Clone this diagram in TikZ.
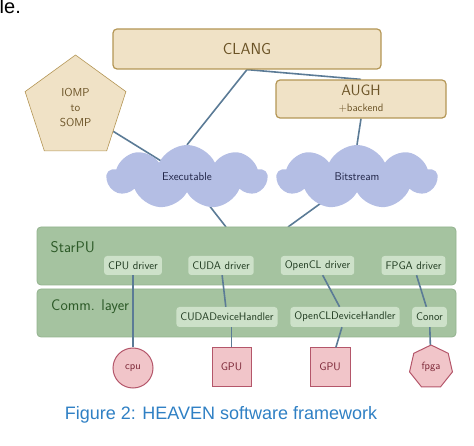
\documentclass[tikz,border=0pt]{standalone}
\usepackage{fontspec}
\newfontfamily\capfont{Liberation Sans}
\usetikzlibrary{shapes.geometric,shapes.symbols,backgrounds}
\definecolor{beigefill}{HTML}{F0E2C6}
\definecolor{beigedraw}{HTML}{B49655}
\definecolor{beigetext}{HTML}{6B5326}
\definecolor{cloudfill}{HTML}{B4BEE4}
\definecolor{cloudtext}{HTML}{1E2244}
\definecolor{linkcol}{HTML}{5B7B96}
\definecolor{greenfill}{HTML}{A5C3A0}
\definecolor{greendraw}{HTML}{93B28E}
\definecolor{greentext}{HTML}{2D5A28}
\definecolor{lightgreen}{HTML}{CDE1C9}
\definecolor{lgtext}{HTML}{1F3A1F}
\definecolor{redfill}{HTML}{F1C5C9}
\definecolor{reddraw}{HTML}{B4566A}
\definecolor{redtext}{HTML}{7A2434}
\definecolor{capblue}{HTML}{2F80C4}
\tikzset{
  fs/.style={font=\sffamily\fontsize{#1}{#1}\selectfont},
  tanbox/.style={draw=beigedraw, fill=beigefill, line width=1.2pt, rounded corners=4pt, text=beigetext, inner sep=0pt},
  cloudnode/.style={cloud, cloud puffs=9, cloud puff arc=130, cloud ignores aspect, fill=cloudfill, draw=none, text=cloudtext, minimum width=160pt, minimum height=64pt, inner sep=0pt, fs=11.3},
  layerbox/.style={draw=greendraw, fill=greenfill, line width=0.8pt, rounded corners=4pt, minimum width=419pt, inner sep=0pt},
  layerlabel/.style={text=greentext, anchor=west, inner sep=0pt, fs=15.5},
  chip/.style={fill=lightgreen, rounded corners=3pt, text=lgtext, inner sep=0pt, inner xsep=4pt, minimum height=19pt, fs=11},
  dev/.style={draw=reddraw, fill=redfill, line width=1pt, text=redtext, inner sep=0pt, fs=10.5},
  link/.style={draw=linkcol, line width=1.6pt},
}
\begin{document}
\begin{tikzpicture}[x=1pt,y=-1pt]
\useasboundingbox (0,0) rectangle (474,446);
\clip (0,0) rectangle (474,446);
% fragment of surrounding text
\node[anchor=base west, inner sep=0pt, font=\capfont\fontsize{20}{20}\selectfont] (frag) at (-0.5,13.3) {le.};
% top part
\node[tanbox, minimum width=268pt, minimum height=40pt, fs=16] (clang) at (247,49) {CLANG};
\node[tanbox, minimum width=170pt, minimum height=38pt, align=center, fs=15] (augh) at (361,99)
  {AUGH\\[1pt]{\fontsize{10.8}{11}\selectfont +backend}};
\node[regular polygon, regular polygon sides=5, minimum size=106pt, inner sep=0pt, draw=beigedraw, fill=beigefill, line width=0.6pt, text=beigetext, align=center, fs=11.5] (pent) at (75.5,108)
  {IOMP\\[3.5pt]to\\[3.5pt]SOMP};
\node[cloudnode] (exec) at (187,177) {Executable};
\node[cloudnode] (bits) at (357,177) {Bitstream};
% layers
\node[layerbox, minimum height=58pt] (starpu) at (246.5,256) {};
\node[layerbox, minimum height=48pt] (comm) at (246.5,313) {};
\node[layerlabel] (starpulabel) at (50.5,247) {StarPU};
\node[layerlabel] (commlabel) at (51,307) {Comm. layer};
\coordinate (s1) at (226,227);
\coordinate (s2) at (288,227);
% drivers
\node[chip] (cpud) at (133,265.5) {CPU driver};
\node[chip] (cudad) at (221,265.5) {CUDA driver};
\node[chip] (ocld) at (317.5,265.5) {OpenCL driver};
\node[chip] (fpgad) at (413.5,265.5) {FPGA driver};
% handlers
\node[chip, minimum height=20pt] (cudah) at (227,317) {CUDADeviceHandler};
\node[chip, minimum height=20pt] (oclh) at (345,317) {OpenCLDeviceHandler};
\node[chip, minimum height=20pt] (conor) at (429.5,317) {Conor};
% devices
\node[dev, circle, minimum size=40pt] (cpu) at (133,368) {cpu};
\node[dev, rectangle, minimum width=39pt, minimum height=38pt, fs=11] (gpu1) at (231.5,367) {GPU};
\node[dev, rectangle, minimum width=40pt, minimum height=38pt, fs=11] (gpu2) at (330,367) {GPU};
\node[dev, regular polygon, regular polygon sides=7, minimum size=44pt] (fpga) at (431,367) {fpga};
% caption
\node[inner sep=0pt, text=capblue, font=\capfont\fontsize{18}{18}\selectfont] (caption) at (221,415) {Figure 2: HEAVEN software framework};
% connectors
\begin{pgfonlayer}{background}
\draw[link] (clang.south) -- (exec.north);
\draw[link] (clang.south) -- (augh.north);
\draw[link] (pent.center) -- (exec.center);
\draw[link] (augh.south) -- (bits.north);
\draw[link] (exec.center) -- (s1);
\draw[link] (bits.center) -- (s2);
\end{pgfonlayer}
\draw[link] (cpud) -- (cpu);
\draw[link] (cudad) -- (cudah);
\draw[link] (gpu1.north) -- (gpu1.north |- cudah.south);
\draw[link] (ocld) -- (oclh);
\draw[link] (oclh) -- (gpu2);
\draw[link] (fpgad) -- (conor);
\draw[link] (conor) -- (fpga);
\end{tikzpicture}
\end{document}
